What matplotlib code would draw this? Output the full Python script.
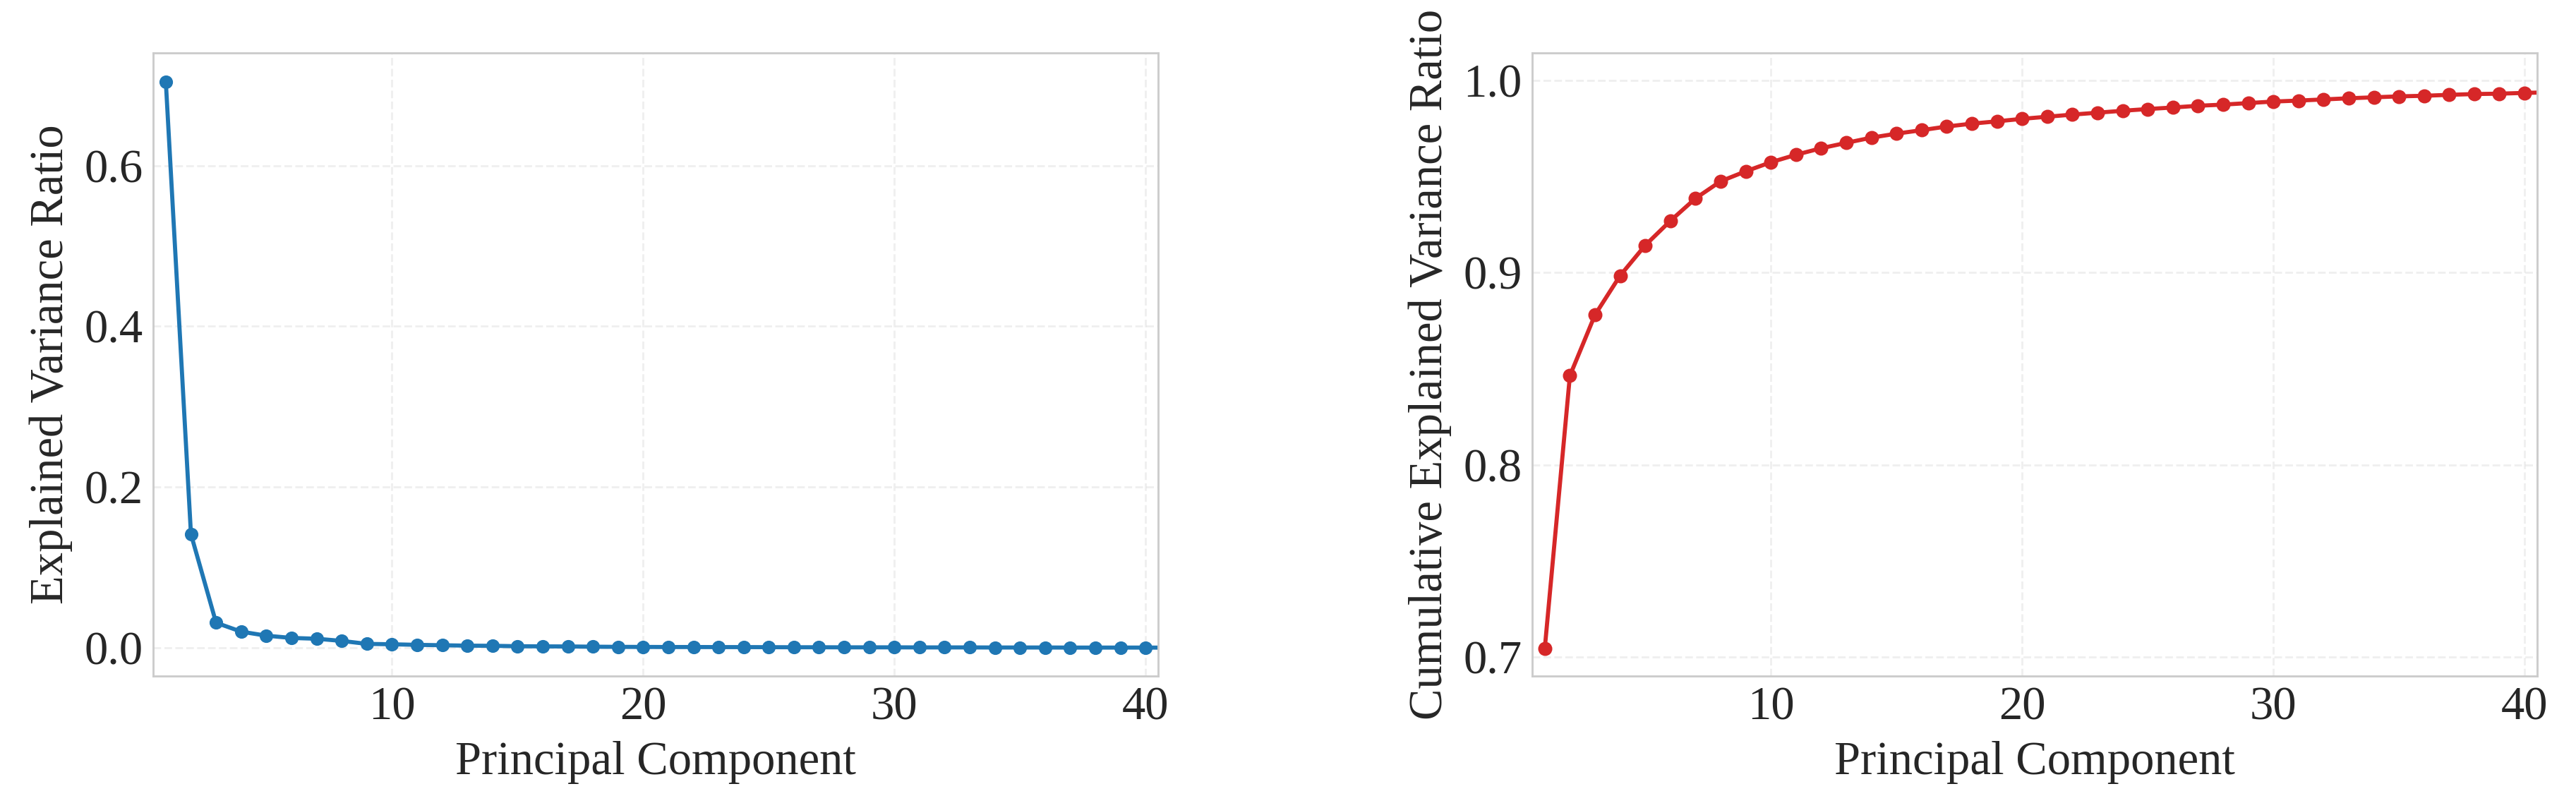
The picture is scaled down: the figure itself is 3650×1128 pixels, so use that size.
import numpy as np
import matplotlib
matplotlib.use("Agg")
import matplotlib.pyplot as plt

plt.rcParams["font.family"] = ["Liberation Serif", "DejaVu Serif"]
plt.rcParams["font.size"] = 16

# explained variance ratio per principal component
components = list(range(1, 42))
explained = [
    0.704, 0.1415, 0.0313, 0.0202, 0.0152, 0.0124, 0.0114, 0.0087, 0.0050, 0.0045,
    0.0038, 0.0033, 0.0028, 0.0026, 0.0021, 0.0019, 0.0018, 0.0015, 0.0013, 0.0012,
    0.0011, 0.0011, 0.0010, 0.0010, 0.0009, 0.0008, 0.0008, 0.0007, 0.0007, 0.0007,
    0.0006, 0.0006, 0.0006, 0.0005, 0.0005, 0.0005, 0.0004, 0.0004, 0.0004, 0.0004,
    0.0003,
]
cumulative = [
    0.7043, 0.8463, 0.8780, 0.8984, 0.9142, 0.9269, 0.9386, 0.9475, 0.9527, 0.9574,
    0.9613, 0.9647, 0.9675, 0.9702, 0.9723, 0.9741, 0.9760, 0.9775, 0.9787, 0.9800,
    0.9811, 0.9822, 0.9832, 0.9842, 0.9851, 0.9859, 0.9868, 0.9874, 0.9882, 0.9890,
    0.9895, 0.9901, 0.9907, 0.9912, 0.9917, 0.9920, 0.9925, 0.9929, 0.9931, 0.9935,
    0.9938,
]

text_color = "#262626"

fig = plt.figure(figsize=(3650 / 300, 1128 / 300), dpi=300)
ax1 = fig.add_axes([0.0595, 0.1507, 0.3901, 0.7828])
ax2 = fig.add_axes([0.5948, 0.1507, 0.3901, 0.7828])


def style(ax):
    ax.set_facecolor("white")
    for s in ax.spines.values():
        s.set_color("#cccccc")
        s.set_linewidth(0.7)
    ax.grid(True, linestyle="--", color="#cccccc", alpha=0.3, linewidth=0.7)
    ax.set_axisbelow(True)
    ax.tick_params(length=0, labelsize=16, colors=text_color, pad=3.5)
    ax.set_xlim(0.5, 40.5)
    ax.set_xticks([10, 20, 30, 40])
    ax.set_xlabel("Principal Component", color=text_color, fontsize=16)


ax1.plot(components, explained, color="#1f77b4", marker="o",
         markersize=3.6, linewidth=1.4)
style(ax1)
ax1.set_ylim(-0.035, 0.74)
ax1.set_yticks([0.0, 0.2, 0.4, 0.6])
ax1.set_ylabel("Explained Variance Ratio", color=text_color, fontsize=16)

ax2.plot(components, cumulative, color="#d62728", marker="o",
         markersize=3.8, linewidth=1.4)
style(ax2)
ax2.set_ylim(0.69, 1.0143)
ax2.set_yticks([0.7, 0.8, 0.9, 1.0])
ax2.set_ylabel("Cumulative Explained Variance Ratio", color=text_color, fontsize=16)

fig.savefig("out.png", dpi=300, facecolor="white")
